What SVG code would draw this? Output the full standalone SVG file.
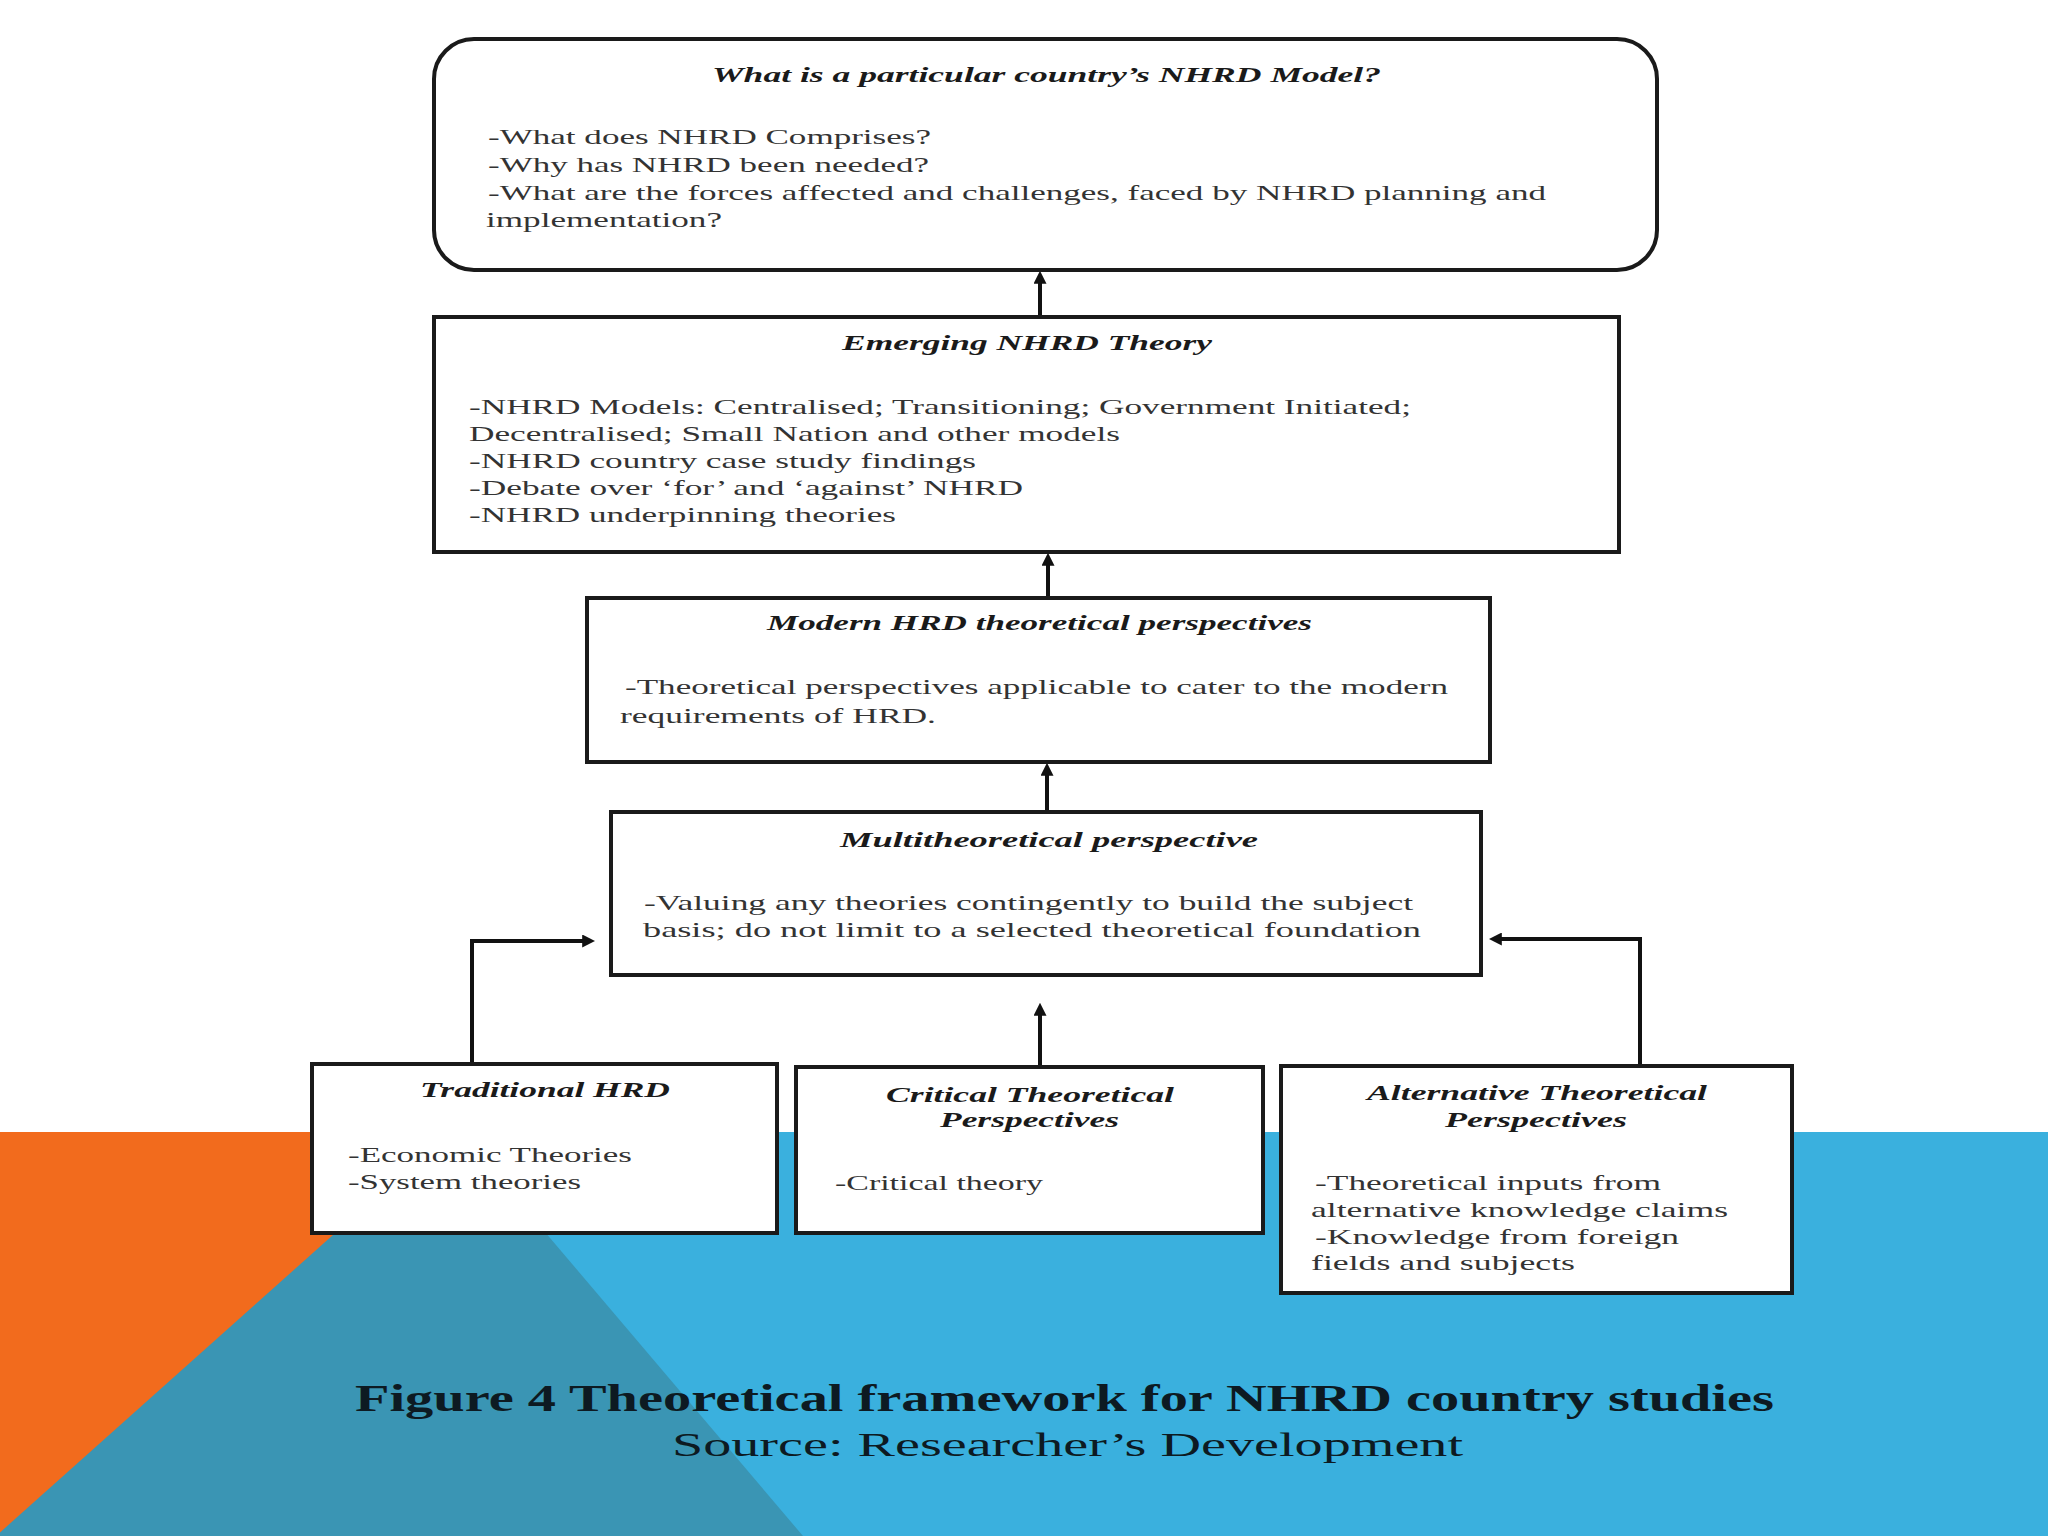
<svg xmlns="http://www.w3.org/2000/svg" width="2048" height="1536" viewBox="0 0 2048 1536">
<style>
.box{fill:#ffffff;stroke:#1a1a1a;stroke-width:4}
.ttl{font-family:"Liberation Serif","Times New Roman",serif;font-size:22px;font-weight:bold;font-style:italic;fill:#1a1a1a}
.txt{font-family:"Liberation Serif","Times New Roman",serif;font-size:21px;fill:#333333}
.conn{fill:none;stroke:#111111;stroke-width:4}
.cap{font-family:"Liberation Serif","Times New Roman",serif;fill:#0d1a22}
</style>
<defs>
<marker id="arr" viewBox="0 0 10 10" refX="6" refY="5" markerWidth="13" markerHeight="13" markerUnits="userSpaceOnUse" orient="auto">
<path d="M0,0 L10,5 L0,10 z" fill="#111111"/>
</marker>
</defs>
<rect x="0" y="0" width="2048" height="1536" fill="#ffffff"/>
<g id="background">
<rect x="0" y="1132" width="2048" height="404" fill="#3ab0de"/>
<polygon points="0,1132 456,1132 0,1540" fill="#f26b1d"/>
<polygon points="455,1126 803,1536 -4,1536" fill="#3a95b4"/>
</g>
<g id="connectors">
<path class="conn" d="M1040,317 V276" marker-end="url(#arr)"/>
<path class="conn" d="M1048,598 V558" marker-end="url(#arr)"/>
<path class="conn" d="M1047,812 V768" marker-end="url(#arr)"/>
<path class="conn" d="M1040,1066 V1008" marker-end="url(#arr)"/>
<path class="conn" d="M472,1064 V941 H590" marker-end="url(#arr)"/>
<path class="conn" d="M1640,1066 V939 H1494" marker-end="url(#arr)"/>
</g>
<g id="node-nhrd-model">
<rect class="box" x="434" y="39" width="1223" height="231" rx="40" ry="40"/>
<text class="ttl" x="712" y="82" textLength="669" lengthAdjust="spacingAndGlyphs">What is a particular country’s NHRD Model?</text>
<text class="txt" x="488" y="144" textLength="443" lengthAdjust="spacingAndGlyphs">-What does NHRD Comprises?</text>
<text class="txt" x="488" y="172" textLength="441" lengthAdjust="spacingAndGlyphs">-Why has NHRD been needed?</text>
<text class="txt" x="488" y="200" textLength="1058" lengthAdjust="spacingAndGlyphs">-What are the forces affected and challenges, faced by NHRD planning and</text>
<text class="txt" x="486" y="227" textLength="236" lengthAdjust="spacingAndGlyphs">implementation?</text>
</g>
<g id="node-emerging">
<rect class="box" x="434" y="317" width="1185" height="235"/>
<text class="ttl" x="842" y="350" textLength="370" lengthAdjust="spacingAndGlyphs">Emerging NHRD Theory</text>
<text class="txt" x="469" y="414" textLength="942" lengthAdjust="spacingAndGlyphs">-NHRD Models: Centralised; Transitioning; Government Initiated;</text>
<text class="txt" x="469" y="441" textLength="651" lengthAdjust="spacingAndGlyphs">Decentralised; Small Nation and other models</text>
<text class="txt" x="469" y="468" textLength="507" lengthAdjust="spacingAndGlyphs">-NHRD country case study findings</text>
<text class="txt" x="469" y="495" textLength="554" lengthAdjust="spacingAndGlyphs">-Debate over ‘for’ and ‘against’ NHRD</text>
<text class="txt" x="469" y="522" textLength="427" lengthAdjust="spacingAndGlyphs">-NHRD underpinning theories</text>
</g>
<g id="node-modern">
<rect class="box" x="587" y="598" width="903" height="164"/>
<text class="ttl" x="767" y="630" textLength="545" lengthAdjust="spacingAndGlyphs">Modern HRD theoretical perspectives</text>
<text class="txt" x="625" y="694" textLength="823" lengthAdjust="spacingAndGlyphs">-Theoretical perspectives applicable to cater to the modern</text>
<text class="txt" x="620" y="723" textLength="316" lengthAdjust="spacingAndGlyphs">requirements of HRD.</text>
</g>
<g id="node-multi">
<rect class="box" x="611" y="812" width="870" height="163"/>
<text class="ttl" x="840" y="847" textLength="418" lengthAdjust="spacingAndGlyphs">Multitheoretical perspective</text>
<text class="txt" x="644" y="910" textLength="769" lengthAdjust="spacingAndGlyphs">-Valuing any theories contingently to build the subject</text>
<text class="txt" x="643" y="937" textLength="778" lengthAdjust="spacingAndGlyphs">basis; do not limit to a selected theoretical foundation</text>
</g>
<g id="node-traditional">
<rect class="box" x="312" y="1064" width="465" height="169"/>
<text class="ttl" x="420" y="1097" textLength="250" lengthAdjust="spacingAndGlyphs">Traditional HRD</text>
<text class="txt" x="348" y="1162" textLength="284" lengthAdjust="spacingAndGlyphs">-Economic Theories</text>
<text class="txt" x="348" y="1189" textLength="233" lengthAdjust="spacingAndGlyphs">-System theories</text>
</g>
<g id="node-critical">
<rect class="box" x="796" y="1067" width="467" height="166"/>
<text class="ttl" x="886" y="1102" textLength="288" lengthAdjust="spacingAndGlyphs">Critical Theoretical</text>
<text class="ttl" x="940" y="1127" textLength="179" lengthAdjust="spacingAndGlyphs">Perspectives</text>
<text class="txt" x="835" y="1190" textLength="208" lengthAdjust="spacingAndGlyphs">-Critical theory</text>
</g>
<g id="node-alternative">
<rect class="box" x="1281" y="1066" width="511" height="227"/>
<text class="ttl" x="1367" y="1100" textLength="340" lengthAdjust="spacingAndGlyphs">Alternative Theoretical</text>
<text class="ttl" x="1445" y="1127" textLength="182" lengthAdjust="spacingAndGlyphs">Perspectives</text>
<text class="txt" x="1315" y="1190" textLength="346" lengthAdjust="spacingAndGlyphs">-Theoretical inputs from</text>
<text class="txt" x="1311" y="1217" textLength="417" lengthAdjust="spacingAndGlyphs">alternative knowledge claims</text>
<text class="txt" x="1315" y="1244" textLength="364" lengthAdjust="spacingAndGlyphs">-Knowledge from foreign</text>
<text class="txt" x="1311" y="1270" textLength="264" lengthAdjust="spacingAndGlyphs">fields and subjects</text>
</g>
<g id="caption">
<text class="cap" x="355" y="1411" font-size="37" font-weight="bold" textLength="1419" lengthAdjust="spacingAndGlyphs">Figure 4 Theoretical framework for NHRD country studies</text>
<text class="cap" x="672" y="1456" font-size="34" textLength="791" lengthAdjust="spacingAndGlyphs">Source: Researcher’s Development</text>
</g>
</svg>
